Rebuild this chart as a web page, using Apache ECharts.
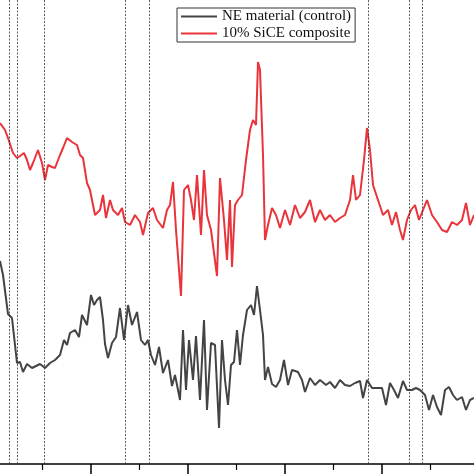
<!DOCTYPE html>
<html>
<head>
<meta charset="utf-8">
<script src="https://cdn.jsdelivr.net/npm/echarts@6/dist/echarts.min.js"></script>
<style>html,body{margin:0;padding:0;background:#fff}#chart{width:474px;height:474px}</style>
</head>
<body>
<div id="chart"></div>
<script>
// Noms des séries
const seriesNames = ['NE material (control)', '10% SiCE composite'];

// Courbe rouge : composite 10% SiCE  [position, intensité]
const siceData = [[6,341],[11,334],[14,326],[16,324],[19,311],[23,306],[26,308],[30,311],[33,304],[36,294],[39,301],[44,314],[48,301],[51,284],[54,299],[58,297],[61,296],[66,309],[69,316],[73,326],[78,322],[83,319],[86,309],[89,306],[93,281],[96,274],[101,249],[106,254],[109,269],[112,246],[116,264],[119,254],[124,249],[128,256],[131,242],[136,239],[141,249],[146,242],[149,229],[154,251],[159,256],[163,244],[169,236],[173,254],[176,259],[179,282],[182,234],[187,168],[190,274],[194,279],[197,264],[200,244],[203,289],[207,229],[210,294],[213,249],[217,234],[223,188],[226,286],[230,244],[233,204],[236,264],[238,197],[241,259],[244,264],[248,269],[252,304],[256,334],[259,344],[262,339],[264,402],[266,394],[269,309],[271,224],[274,239],[278,256],[282,249],[286,236],[291,254],[296,239],[301,259],[306,246],[311,252],[316,264],[321,242],[326,254],[331,244],[336,249],[341,242],[346,246],[351,249],[356,264],[359,289],[362,264],[366,269],[370,304],[373,336],[376,314],[379,279],[384,264],[389,249],[394,254],[398,239],[402,252],[406,234],[409,224],[413,244],[417,254],[421,259],[425,244],[429,254],[433,264],[438,249],[443,242],[448,234],[453,232],[458,242],[463,239],[468,244],[472,261],[476,239],[480,249]];

// Courbe noire : matériau NE (témoin)
const neData = [[6,203],[9,189],[14,150],[18,146],[23,101],[26,102],[29,92],[33,100],[38,96],[42,98],[46,100],[51,96],[56,101],[61,104],[66,109],[70,124],[73,119],[76,131],[81,134],[85,127],[88,149],[93,139],[97,169],[100,159],[103,164],[106,167],[109,144],[111,120],[114,106],[118,121],[122,127],[126,156],[130,124],[134,159],[138,139],[143,152],[147,124],[151,119],[154,124],[157,109],[161,99],[165,117],[169,91],[174,104],[178,78],[181,89],[186,64],[189,134],[192,74],[195,124],[199,84],[202,128],[206,64],[210,144],[213,54],[217,121],[221,119],[225,36],[228,124],[231,84],[234,59],[237,99],[240,102],[243,134],[246,99],[249,129],[253,154],[257,159],[260,149],[263,178],[266,154],[269,129],[271,84],[274,97],[278,80],[282,77],[286,84],[290,104],[294,79],[298,94],[304,92],[308,84],[311,72],[316,86],[321,79],[326,84],[332,79],[336,82],[341,76],[346,84],[351,79],[356,78],[361,81],[366,83],[369,66],[373,84],[378,76],[384,76],[388,76],[392,59],[396,81],[400,74],[404,66],[409,83],[413,74],[418,74],[422,76],[426,74],[431,69],[435,54],[439,69],[443,57],[447,49],[451,74],[455,77],[459,69],[463,64],[468,67],[472,54],[476,64],[480,66]];

// Positions des lignes de référence verticales (pointillés)
const refLines = [15.5, 23, 50, 131, 155, 374, 415, 428];

var chart = echarts.init(document.getElementById('chart'));

var option = {
    animation: false,
    grid: { left: -6, top: 0, width: 485, bottom: 10, outerBoundsMode: 'none' },
    legend: {
        data: seriesNames,
        orient: 'vertical',
        left: 177,
        top: 8,
        itemWidth: 36,
        itemHeight: 10,
        itemGap: 2,
        padding: [1, 4, 1, 3],
        borderColor: '#333',
        borderWidth: 1,
        itemStyle: { opacity: 0 },
        textStyle: { fontFamily: 'Liberation Serif', fontSize: 15, color: '#111' }
    },
    xAxis: {
        type: 'value',
        min: 0,
        max: 485,
        interval: 97,
        axisLine: { lineStyle: { color: '#000', width: 1.5 } },
        axisTick: { inside: false, length: 12, lineStyle: { color: '#000', width: 1.5 } },
        minorTick: { show: true, splitNumber: 2, length: 6, lineStyle: { color: '#000', width: 1.2 } },
        axisLabel: { show: false },
        splitLine: { show: false }
    },
    yAxis: {
        type: 'value',
        min: 0,
        max: 464,
        show: false
    },
    series: [
        {
            name: seriesNames[0],
            type: 'line',
            data: neData,
            symbol: 'none',
            lineStyle: { color: '#444', width: 2 },
            itemStyle: { color: '#444' },
            markLine: {
                silent: true,
                symbol: 'none',
                label: { show: false },
                lineStyle: { color: '#333', type: [2, 1.5], width: 0.8 },
                data: refLines.map(function (v) { return { xAxis: v }; })
            }
        },
        {
            name: seriesNames[1],
            type: 'line',
            data: siceData,
            symbol: 'none',
            lineStyle: { color: '#e8343a', width: 2 },
            itemStyle: { color: '#e8343a' }
        }
    ]
};

chart.setOption(option);
</script>
</body>
</html>
